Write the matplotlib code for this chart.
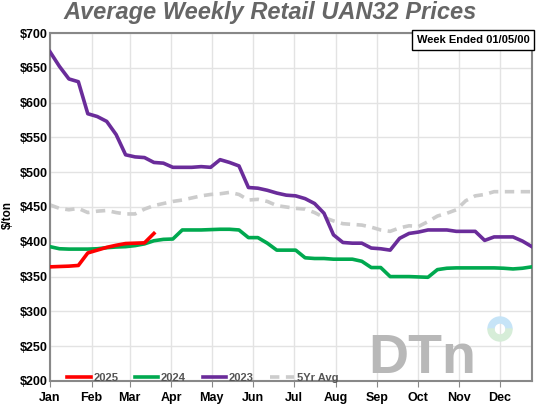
import matplotlib.pyplot as plt
from matplotlib.patches import Wedge
import numpy as np

plt.rcParams['font.family'] = ['Liberation Sans', 'DejaVu Sans']

# weekly prices, $/ton
y2025 = [364, 364.5, 365, 366, 384, 388, 392, 395, 397.5, 398, 398.5, 412]
y2024 = [393, 390, 389.5, 389.5, 389.5, 390, 391.5, 392.5, 393, 394.5,
         397, 401.5, 403.5, 404, 417, 417, 417, 417.5, 418, 418,
         417, 406, 406, 398, 388, 388, 388, 377, 376, 376,
         375, 375, 375, 372, 363, 363, 350, 350, 350, 349.5,
         349, 360, 362, 362.5, 362.5, 362.5, 362.5, 362.5, 362, 361,
         362, 364]
y2023 = [673, 652, 634, 630, 584, 580, 573, 554, 525, 522,
         521, 514, 513, 507, 507, 507, 508, 507, 518, 514,
         509, 478, 477, 474, 470, 467, 466, 462, 455, 441,
         410, 399, 398, 398, 391, 390, 388, 405, 412, 414,
         417, 417, 417, 415, 415, 415, 402, 407, 407, 407,
         401, 393]
avg5 = [453, 448, 446, 448, 442, 444, 445, 442, 440, 440,
        447, 452, 455, 458, 460, 463, 466, 468, 469, 471,
        468, 460, 461, 458, 452, 450, 448, 447, 442, 435,
        430, 426, 425, 424, 421, 417, 415, 420, 423, 422,
        429, 437, 441, 446, 459, 466, 468, 472, 472, 472,
        472, 472]

months = ['Jan', 'Feb', 'Mar', 'Apr', 'May', 'Jun', 'Jul', 'Aug', 'Sep', 'Oct', 'Nov', 'Dec']
month_pos = [0, 4.41, 8.43, 12.84, 17.12, 21.5, 25.83, 30.25, 34.65, 38.93, 43.33, 47.6]

fig = plt.figure(figsize=(5.4, 4.05), dpi=100)
ax = fig.add_axes([0.0926, 0.0593, 0.8924, 0.8592])

lw = 2.6
ax.plot(np.arange(len(avg5)), avg5, color='#cccccc', lw=lw, ls=(0, (2.6, 1.8)), label='5Yr Avg', zorder=2)
ax.plot(np.arange(len(y2024)), y2024, color='#00a94f', lw=lw, label='2024', zorder=3)
ax.plot(np.arange(len(y2023)), y2023, color='#6a2c9a', lw=lw, label='2023', zorder=3)
ax.plot(np.arange(len(y2025)), y2025, color='#ff0000', lw=lw, label='2025', zorder=4)

ax.set_xlim(0, 51)
ax.set_ylim(200, 700)
ax.set_xticks(month_pos)
ax.set_xticklabels(months, fontweight='bold', fontsize=9)
ax.set_yticks(np.arange(200, 701, 50))
ax.set_yticklabels(['${}'.format(v) for v in range(200, 701, 50)], fontweight='bold', fontsize=9)
ax.tick_params(axis='y', length=0, pad=1.5)
ax.tick_params(axis='x', length=4, color='#888888', pad=4)
ax.grid(True, color='#e3e3e3', lw=1)
ax.set_axisbelow(True)
for s in ax.spines.values():
    s.set_color('#888888')
    s.set_linewidth(1.5)
fig.text(8 / 540, 1 - 215 / 405, '$/ton', rotation=90, ha='center', va='center',
         fontweight='bold', fontsize=8.5)

fig.text(0.5, 0.968, 'Average Weekly Retail UAN32 Prices', ha='center', va='center',
         fontsize=17, fontweight='bold', fontstyle='italic', color='#666666')

ax.text(0.995, 0.993, 'Week Ended 01/05/00', transform=ax.transAxes, ha='right', va='top',
        fontsize=8, fontweight='bold',
        bbox=dict(boxstyle='square,pad=0.45', fc='white', ec='black', lw=1), zorder=6)

# DTN watermark
fig.text(368 / 540, 1 - 373 / 405, 'DTn', fontsize=40, fontweight='bold', color='#b8b8b8',
         ha='left', va='baseline', zorder=1)
for t1, t2, c in [(0, 180, '#c6e4f7'), (180, 360, '#d6edd8')]:
    w = Wedge((500, 405 - 329), 12, t1, t2, width=6, color=c, transform=None)
    fig.patches.append(w)

handles, labels = ax.get_legend_handles_labels()
order = [3, 1, 2, 0]
leg = ax.legend([handles[i] for i in order], [labels[i] for i in order], loc='lower left',
                bbox_to_anchor=(0.015, -0.035), ncol=4, frameon=False, fontsize=8,
                handlelength=2.1, handletextpad=0.25, columnspacing=1.5)
for t in leg.get_texts():
    t.set_color('#555555')
    t.set_fontweight('bold')

fig.savefig('out.png', dpi=100)
